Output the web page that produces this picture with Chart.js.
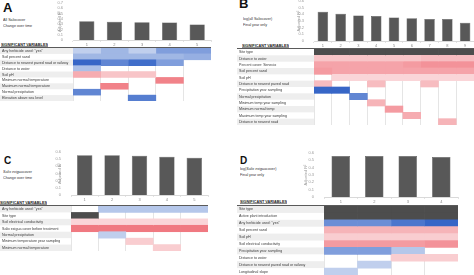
<!DOCTYPE html>
<html>
<head>
<meta charset="utf-8">
<script src="https://cdn.jsdelivr.net/npm/chart.js@4"></script>
<style>
  body { margin: 0; background: #fff; width: 474px; height: 275px; overflow: hidden; position: relative; font-family: 'Liberation Sans', Arial, sans-serif; }
  canvas { position: absolute; }
  .letter { position: absolute; font-weight: bold; color: #111; line-height: 1; }
  .sub { position: absolute; font-size: 7.4px; line-height: 11px; color: #333; transform: scale(.5); transform-origin: 0 0; white-space: nowrap; }
  .hdr { position: absolute; font-size: 7.6px; font-weight: bold; text-decoration: underline; color: #222; transform: scale(.5); transform-origin: 0 0; white-space: nowrap; line-height: 1; }
  .rule { position: absolute; height: 1px; background: #5a5a5a; }
</style>
</head>
<body>
<div class="letter" style="left:3px;top:1px;font-size:13px">A</div>
<div class="sub" style="left:3px;top:17px">All Salixcover<br>Change over time</div>
<div class="letter" style="left:239px;top:-3px;font-size:13px">B</div>
<div class="sub" style="left:243px;top:16px">log(all Salixcover)<br>Final year only</div>
<div class="letter" style="left:4px;top:155.5px;font-size:10px">C</div>
<div class="sub" style="left:3px;top:168px;line-height:13px"><i>Salix exigua</i>cover<br>Change over time</div>
<div class="letter" style="left:240px;top:155.5px;font-size:10px">D</div>
<div class="sub" style="left:240px;top:166px;line-height:12px">log(<i>Salix exigua</i>cover)<br>Final year only</div>

<div class="hdr" style="left:1px;top:43px">SIGNIFICANT VARIABLES</div>
<div class="rule" style="left:0;top:47px;width:211px"></div>
<div class="hdr" style="left:242px;top:44px">SIGNIFICANT VARIABLES</div>
<div class="rule" style="left:237px;top:47.5px;width:237px"></div>
<div class="hdr" style="left:0;top:200.5px">SIGNIFICANT VARIABLES</div>
<div class="rule" style="left:0;top:204.5px;width:208px"></div>
<div class="hdr" style="left:240px;top:200px">SIGNIFICANT VARIABLES</div>
<div class="rule" style="left:237px;top:204.5px;width:221px"></div>

<canvas id="barA"></canvas>
<canvas id="heatA"></canvas>
<canvas id="barB"></canvas>
<canvas id="heatB"></canvas>
<canvas id="barC"></canvas>
<canvas id="heatC"></canvas>
<canvas id="barD"></canvas>
<canvas id="heatD"></canvas>

<script>
// Cell values: positive = red (positive effect), negative = blue, 'c' = categorical (grey), null = not in model

// Panel A
const aModels = ['1', '2', '3', '4', '5'];
const aR2 = [0.356, 0.344, 0.337, 0.331, 0.293];
const aVars = [
  'Any herbicide used: "yes"',
  'Soil percent sand',
  'Distance to nearest paved road or railway',
  'Distance to water',
  'Soil pH',
  'Minimum normal temperature',
  'Maximum normal temperature',
  'Normal precipitation',
  'Elevation above sea level'
];
const aCells = [
  [-0.3, -0.45, -0.3, -0.6, -0.6],
  [-0.45, -0.45, -0.45, -0.45, -0.5],
  [-0.95, -0.75, -0.9, -0.6, null],
  [-0.4, null, null, null, null],
  [0.5, 0.35, 0.35, null, null],
  [null, null, null, 0.75, null],
  [null, 0.75, null, null, null],
  [-0.75, null, null, null, null],
  [null, null, -0.8, null, null]
];

// Panel B
const bModels = ['1', '2', '3', '4', '5', '6', '7', '8', '9'];
const bR2 = [0.438, 0.408, 0.384, 0.374, 0.354, 0.340, 0.329, 0.329, 0.272];
const bVars = [
  'Site type',
  'Distance to water',
  'Percent cover: Senecio',
  'Soil percent sand',
  'Soil pH',
  'Distance to nearest paved road',
  'Precipitation year sampling',
  'Normal precipitation',
  'Minimum temp year sampling',
  'Minimum normal temp',
  'Maximum temp year sampling',
  'Distance to nearest road'
];
const bCells = [
  ['c', 'c', 'c', 'c', 'c', 'c', 'c', 'c', 'c'],
  [0.35, 0.35, 0.35, 0.35, 0.35, 0.35, 0.4, 0.4, 0.4],
  [0.55, 0.55, 0.55, 0.55, 0.55, 0.6, 0.65, 0.65, 0.65],
  [0.6, 0.55, 0.55, 0.55, 0.55, 0.55, 0.55, 0.55, 0.55],
  [null, 0.25, 0.25, 0.25, 0.25, 0.25, 0.25, 0.25, 0.25],
  [0.4, null, null, 0.4, null, null, 0.4, null, null],
  [-0.95, -0.95, null, null, null, null, null, null, null],
  [null, null, -0.75, null, null, null, null, null, null],
  [null, null, null, 0.45, null, null, null, null, null],
  [null, null, null, null, 0.6, null, null, null, null],
  [null, null, null, null, null, 0.5, null, null, null],
  [null, null, null, null, null, null, null, 0.45, null]
];

// Panel C
const cModels = ['1', '2', '3', '4', '5'];
const cR2 = [0.554, 0.554, 0.549, 0.535, 0.521];
const cVars = [
  'Any herbicide used: "yes"',
  'Site type',
  'Soil electrical conductivity',
  'Salix exigua cover before treatment',
  'Normal precipitation',
  'Minimum temperature year sampling',
  'Minimum normal temperature'
];
const cCells = [
  [null, -0.35, -0.35, -0.35, -0.35],
  ['c', null, null, null, null],
  [0.25, 0.25, 0.25, 0.25, 0.25],
  [0.8, 0.8, 0.8, 0.8, 0.8],
  [null, -0.3, null, null, null],
  [null, null, 0.3, null, null],
  [null, null, null, 0.3, null]
];

// Panel D
const dModels = ['1', '2', '3', '4'];
const dR2 = [0.559, 0.559, 0.559, 0.545];
const dVars = [
  'Site type',
  'Active plant introduction',
  'Any herbicide used: "yes"',
  'Soil percent sand',
  'Soil pH',
  'Soil electrical conductivity',
  'Precipitation year sampling',
  'Distance to water',
  'Distance to nearest paved road or railway',
  'Longitudinal slope'
];
const dCells = [
  ['c', 'c', 'c', 'c'],
  ['c', 'c', 'c', 'c'],
  [-0.7, -0.7, -0.85, -0.95],
  [0.45, 0.45, 0.45, 0.45],
  [0.3, 0.3, 0.3, 0.3],
  [0.6, 0.6, 0.6, 0.65],
  [-0.6, -0.6, -0.35, null],
  [null, null, 0.3, 0.3],
  [null, -0.3, null, null],
  [-0.3, null, null, null]
];

const FONT = "'Liberation Sans', Arial, sans-serif";

function cellColor(v) {
  if (v === 'c') return '#4d4d4d';
  const t = Math.abs(v);
  const base = v > 0 ? [236, 88, 98] : [44, 94, 196];
  const rgb = base.map(b => Math.round(255 + (b - 255) * t));
  return `rgb(${rgb.join(',')})`;
}

// alternating grey bands behind the variable names
const rowBands = {
  id: 'rowBands',
  beforeDraw(chart, args, opts) {
    const { ctx, chartArea, scales: { y } } = chart;
    const n = y.ticks.length;
    const h = (chartArea.bottom - chartArea.top) / n;
    ctx.save();
    ctx.fillStyle = '#eeeeee';
    for (let i = 0; i < n; i++) {
      if ((i + opts.start) % 2 === 0) ctx.fillRect(0, chartArea.top + i * h, chartArea.left, h);
    }
    ctx.restore();
  }
};

function barChart(id, models, values, yMax, area) {
  const axisW = 24, padTop = 4, axisH = 8, padRight = 3;
  const cv = document.getElementById(id);
  const left = area.left - axisW;
  const top = area.top - padTop;
  cv.width = Math.round(area.right - left + padRight);
  cv.height = Math.round(area.bottom - top + axisH);
  cv.style.left = left + 'px';
  cv.style.top = top + 'px';

  new Chart(cv, {
    type: 'bar',
    data: {
      labels: models,
      datasets: [{
        data: values,
        backgroundColor: '#585858',
        borderColor: '#4a4a4a',
        borderWidth: 0.5,
        barPercentage: area.barPct,
        categoryPercentage: 1
      }]
    },
    options: {
      responsive: false,
      animation: false,
      devicePixelRatio: 1,
      layout: { padding: { top: padTop, right: padRight, left: 0, bottom: 0 } },
      plugins: { legend: { display: false }, tooltip: { enabled: false } },
      scales: {
        x: {
          grid: { display: true, drawOnChartArea: false, tickLength: 2, color: '#d0d0d0', lineWidth: 0.6 },
          border: { color: '#cfcfcf', width: 0.8 },
          ticks: { font: { size: 4, family: FONT }, color: '#888', padding: 0.5 },
          afterFit: s => { s.height = axisH; s.paddingLeft = 0; s.paddingRight = 0; }
        },
        y: {
          min: 0,
          max: yMax,
          ticks: { stepSize: 0.1, autoSkip: false, maxTicksLimit: 20, font: { size: 4, family: FONT }, color: '#9a9a9a', padding: 2 },
          grid: { display: false },
          border: { display: false },
          title: {
            display: true, text: 'Adjusted R²', color: '#9a9a9a',
            font: { size: 4, family: FONT },
            padding: { top: area.titleX - left - 2.4, bottom: 0 }
          },
          afterFit: s => { s.width = axisW; s.paddingTop = 0; s.paddingBottom = 0; }
        }
      }
    }
  });
}

function heatmap(id, models, vars, cells, area) {
  const cv = document.getElementById(id);
  const labelW = area.left - area.x0;
  cv.width = Math.round(area.right - area.x0);
  cv.height = Math.round(area.bottom - area.top);
  cv.style.left = area.x0 + 'px';
  cv.style.top = area.top + 'px';

  const datasets = models.map((m, c) => {
    const pts = [];
    const cols = [];
    vars.forEach((v, r) => {
      const val = cells[r][c];
      if (val == null) return;
      pts.push({ x: [c, c + 1], y: v });
      cols.push(cellColor(val));
    });
    return { data: pts, backgroundColor: cols, grouped: false, barPercentage: 1, categoryPercentage: 1, borderWidth: 0 };
  });

  new Chart(cv, {
    type: 'bar',
    data: { labels: vars, datasets: datasets },
    plugins: [rowBands],
    options: {
      indexAxis: 'y',
      responsive: false,
      animation: false,
      devicePixelRatio: 1,
      layout: { padding: { left: 2, top: 0, right: 0, bottom: 0 } },
      plugins: { legend: { display: false }, tooltip: { enabled: false }, rowBands: { start: area.bandStart } },
      scales: {
        x: {
          type: 'linear', min: 0, max: models.length,
          ticks: { display: false, stepSize: 1 },
          grid: { color: '#dadada', lineWidth: 0.7, drawTicks: false },
          border: { display: false },
          afterFit: s => { s.height = 0; s.paddingLeft = 0; s.paddingRight = 0; }
        },
        y: {
          grid: { display: false },
          border: { display: false },
          ticks: { crossAlign: 'far', autoSkip: false, padding: 0, font: { size: 3.6, family: FONT }, color: '#3a3a3a' },
          afterFit: s => { s.width = labelW - 2; s.paddingTop = 0; s.paddingBottom = 0; }
        }
      }
    }
  });
}

barChart('barA', aModels, aR2, 0.7, { left: 73, right: 211, top: 3.3, bottom: 40, titleX: 60, barPct: 0.55 });
heatmap('heatA', aModels, aVars, aCells, { x0: 0, left: 73, right: 211, top: 48, bottom: 101, bandStart: 0 });

barChart('barB', bModels, bR2, 0.6, { left: 314, right: 474, top: 1, bottom: 40.7, titleX: 299, barPct: 0.59 });
heatmap('heatB', bModels, bVars, bCells, { x0: 237, left: 314, right: 474, top: 48.5, bottom: 124.5, bandStart: 1 });

barChart('barC', cModels, cR2, 0.6, { left: 71, right: 208, top: 152, bottom: 195.3, titleX: 60, barPct: 0.56 });
heatmap('heatC', cModels, cVars, cCells, { x0: 0, left: 71, right: 208, top: 205.5, bottom: 250.5, bandStart: 0 });

barChart('barD', dModels, dR2, 0.6, { left: 324, right: 458, top: 153, bottom: 197, titleX: 306, barPct: 0.55 });
heatmap('heatD', dModels, dVars, dCells, { x0: 237, left: 324, right: 458, top: 206, bottom: 275, bandStart: 0 });
</script>
</body>
</html>
